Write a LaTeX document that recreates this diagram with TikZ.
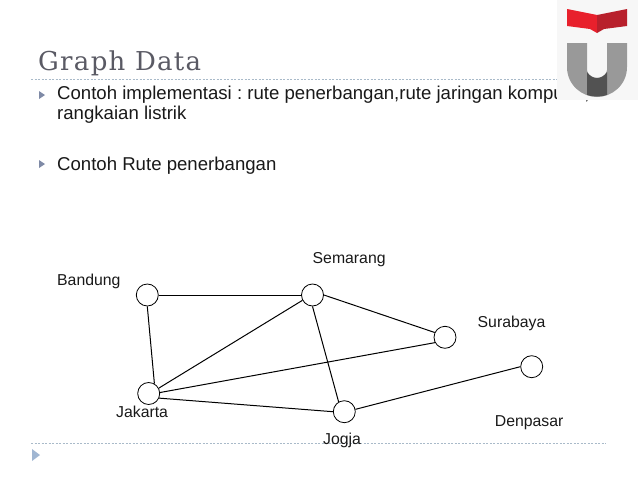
\documentclass[tikz,border=0pt]{standalone}
\usepackage{fontspec}
\setmainfont{Liberation Sans}
\newfontfamily\titlefont[LetterSpace=5]{DejaVu Serif}
\usepackage{tikz}
\frenchspacing
\definecolor{titlegray}{HTML}{5A5A64}
\definecolor{rulecol}{HTML}{A9BAC9}
\definecolor{bulletcol}{HTML}{7F8AA6}
\definecolor{markcol}{HTML}{A0B6D2}
\definecolor{bookleft}{HTML}{E8202C}
\definecolor{bookright}{HTML}{B8202C}
\begin{document}
\begin{tikzpicture}[
    x=1pt,y=-1pt,
    city/.style={draw,circle,fill=white,inner sep=0pt,minimum size=22pt,line width=0.8pt},
    road/.style={line width=1pt},
    citylabel/.style={anchor=base west,inner sep=0pt,font=\fontsize{15.8}{18}\selectfont,text=black!90},
    bodytext/.style={anchor=base west,inner sep=0pt,font=\fontsize{18.6}{21}\selectfont,text=black!90},
    rulerline/.style={rulecol,dash pattern=on 2pt off 1.5pt,line width=0.7pt},
    bullet/.style={fill=bulletcol}
    ]
    \useasboundingbox (0,0) rectangle (638,479);
    % title and rules
    \node[anchor=base west,inner sep=0pt,text=titlegray,font=\fontsize{26}{30}\titlefont] (title) at (38,70.5) {Graph Data};
    \draw[rulerline] (31,79) -- (610,79);
    \draw[rulerline] (31,443) -- (606,443);
    \fill[markcol] (32,449) -- (40,455) -- (32,461) -- cycle;
    % bullets
    \fill[bullet] (39,91) -- (45,95) -- (39,99) -- cycle;
    \fill[bullet] (39,160) -- (45,164) -- (39,168) -- cycle;
    \node[bodytext] (line1) at (57,99) {Contoh implementasi : rute penerbangan,rute jaringan komputer,};
    \node[bodytext] (line2) at (57,119) {rangkaian listrik};
    \node[bodytext] (line3) at (57,170) {Contoh Rute penerbangan};
    % logo
    \fill[black!3] (557,0) rectangle (638,100);
    \fill[bookleft] (567,9) -- (597,15) -- (597,33) -- (590,29) -- (567,26) -- cycle;
    \fill[bookright] (627,9) -- (597,15) -- (597,33) -- (604,29) -- (627,26) -- cycle;
    \fill[black!40] (567,43) -- (587,43) -- (587,70) .. controls (587,75) and (592,78) .. (597,78) .. controls (602,78) and (607,75) .. (607,70) -- (607,43) -- (627,43) -- (627,67) .. controls (627,85) and (612,97) .. (597,97) .. controls (582,97) and (567,85) .. (567,67) -- cycle;
    \fill[black!68] (587,72) .. controls (590,76) and (593,78) .. (597,78) .. controls (601,78) and (604,76) .. (607,72) -- (607,95) .. controls (601,97) and (593,97) .. (587,95) -- cycle;
    % graph
    \node[city] (bandung) at (147.3,295) {};
    \node[city] (semarang) at (312.5,295) {};
    \node[city] (surabaya) at (445,337.3) {};
    \node[city] (denpasar) at (531.7,366.7) {};
    \node[city] (jakarta) at (148.7,393.5) {};
    \node[city] (jogja) at (344.3,411.7) {};
    \draw[road] (bandung.east) -- (semarang.west);
    \draw[road] (bandung.south) -- (jakarta.60);
    \draw[road] (semarang.208) -- (jakarta.28);
    \draw[road] (semarang.east) -- (surabaya.155);
    \draw[road] (semarang.south) -- (jogja.120);
    \draw[road] (jakarta.5) -- (surabaya.208);
    \draw[road] (jakarta.-24) -- (jogja.west);
    \draw[road] (jogja.12) -- (denpasar.west);
    \node[citylabel] (lblbandung) at (57,285) {Bandung};
    \node[citylabel] (lblsemarang) at (312.5,263.5) {Semarang};
    \node[citylabel] (lblsurabaya) at (477.5,327.3) {Surabaya};
    \node[citylabel] (lbldenpasar) at (494.7,426) {Denpasar};
    \node[citylabel] (lbljakarta) at (116,417.7) {Jakarta};
    \node[citylabel] (lbljogja) at (323,444) {Jogja};
  \end{tikzpicture}
\end{document}
